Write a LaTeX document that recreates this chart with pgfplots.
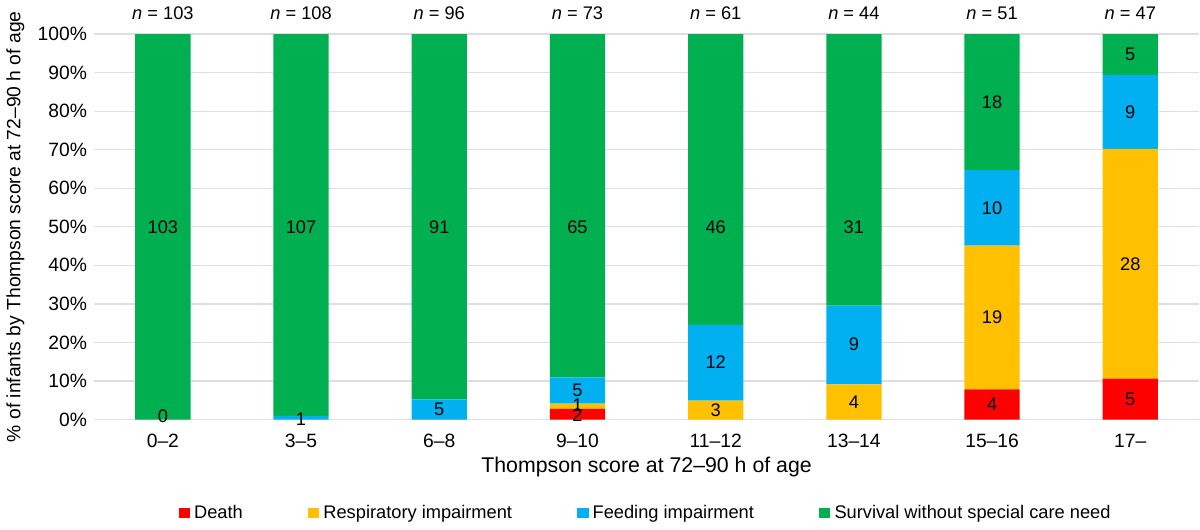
\documentclass[border=0pt]{standalone}
\usepackage{pgfplots}
\pgfplotsset{compat=1.18}
\usepackage{fontspec}
\setmainfont{Liberation Sans}
\definecolor{cD}{HTML}{FF0000}
\definecolor{cR}{HTML}{FFC000}
\definecolor{cF}{HTML}{00B0F0}
\definecolor{cS}{HTML}{00B050}
\begin{document}
\fontsize{9.5}{11}\selectfont
\begin{tikzpicture}
\pgfplotsset{myax/.style={
  scale only axis, width=545pt, height=190pt,
  xmin=-0.5, xmax=7.5, ymin=0, ymax=100,
  xtick={0,...,7}, xticklabels={0--2,3--5,6--8,9--10,11--12,13--14,15--16,17--},
  ytick={0,10,...,100}, yticklabel={\pgfmathprintnumber{\tick}\%},
  /pgf/number format/assume math mode=true,
  tick style={draw=none}, axis line style={draw=none},
  ticklabel style={font=\fontsize{9.5}{11}\selectfont},
  xticklabel style={yshift=-4pt},
}}
\begin{axis}[myax,
  ybar stacked, bar width=0.4,
  ymajorgrids, grid style={gray!25, line width=0.6pt},
  xlabel={Thompson score at 72--90 h of age},
  ylabel={\% of infants by Thompson score at 72--90 h of age},
  xlabel style={font=\fontsize{10.5}{12}\selectfont, yshift=2pt},
  ylabel style={font=\fontsize{9.5}{11}\selectfont, yshift=0pt},
  legend style={at={(0.5,-0.2)}, anchor=north, draw=none, legend columns=4,
    /tikz/every even column/.append style={column sep=30pt}, font=\fontsize{9}{11}\selectfont},
  legend image code/.code={\fill[#1] (0cm,-0.09cm) rectangle (0.2cm,0.09cm);},
]
\addplot[fill=cD, draw=none] coordinates {(0,0) (1,0) (2,0) (3,2.740) (4,0) (5,0) (6,7.843) (7,10.638)};
\addplot[fill=cR, draw=none] coordinates {(0,0) (1,0) (2,0) (3,1.370) (4,4.918) (5,9.091) (6,37.255) (7,59.574)};
\addplot[fill=cF, draw=none] coordinates {(0,0) (1,0.926) (2,5.208) (3,6.849) (4,19.672) (5,20.455) (6,19.608) (7,19.149)};
\addplot[fill=cS, draw=none] coordinates {(0,100) (1,99.074) (2,94.792) (3,89.041) (4,75.410) (5,70.455) (6,35.294) (7,10.638)};
\legend{Death, Respiratory impairment, Feeding impairment, Survival without special care need}
\end{axis}
\begin{axis}[myax, hide axis, clip=false]
\addplot[only marks, mark=none, nodes near coords, point meta=explicit symbolic,
  every node near coord/.append style={anchor=center, font=\fontsize{9}{11}\selectfont}]
  table[meta=m] {
x y m
0 50 103
0 0.8 0
1 50 107
1 0 1
2 50 91
2 2.6 5
3 50 65
3 1.1 2
3 3.6 1
3 7.5 5
4 50 46
4 2.5 3
4 14.8 12
5 50 31
5 4.5 4
5 19.6 9
6 3.9 4
6 26.5 19
6 54.9 10
6 82.4 18
7 5.3 5
7 40.4 28
7 79.8 9
7 94.7 5
};
\addplot[only marks, mark=none, nodes near coords, point meta=explicit symbolic,
  every node near coord/.append style={anchor=center, font=\fontsize{9}{11}\selectfont}]
  table[meta=m] {
x y m
0 105.5 {\textit{n} = 103}
1 105.5 {\textit{n} = 108}
2 105.5 {\textit{n} = 96}
3 105.5 {\textit{n} = 73}
4 105.5 {\textit{n} = 61}
5 105.5 {\textit{n} = 44}
6 105.5 {\textit{n} = 51}
7 105.5 {\textit{n} = 47}
};
\end{axis}
\end{tikzpicture}
\end{document}
